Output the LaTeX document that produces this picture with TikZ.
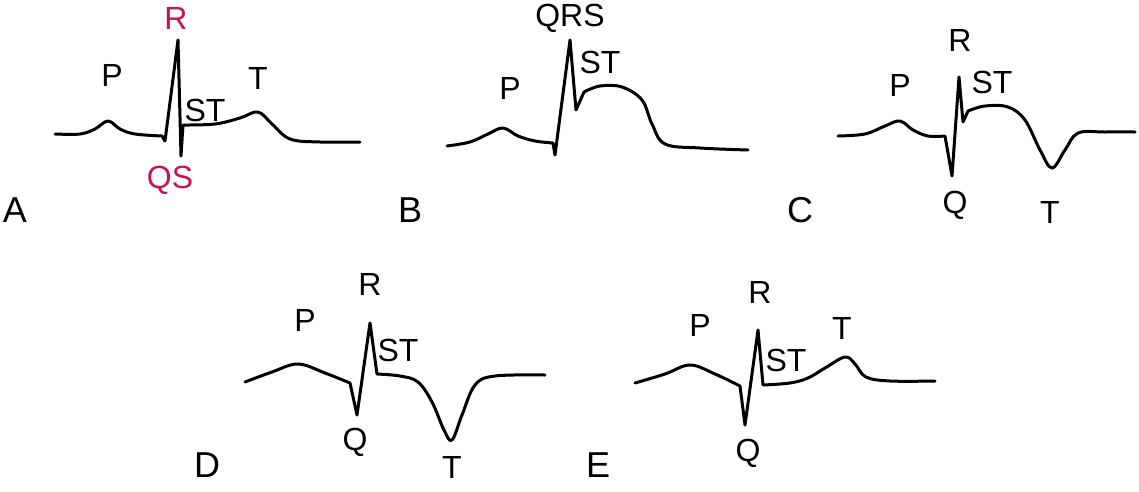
\documentclass[tikz,border=0pt]{standalone}
\usepackage{fontspec}
\setmainfont{Liberation Sans}
\definecolor{ecgred}{RGB}{196,20,84}
\begin{document}
\begin{tikzpicture}[x=1pt,y=-1pt,
  wave/.style={line width=3pt,line join=round,line cap=round},
  lab/.style={font=\fontsize{32}{32}\selectfont,inner sep=0pt},
  big/.style={font=\fontsize{36}{36}\selectfont,inner sep=0pt}]
\useasboundingbox (0,0) rectangle (1139,491);
% A
\draw[wave] plot[smooth,tension=0.6] coordinates{(55,134)(80,134)(95,129)(108,121)(120,129)(135,134)(162,136)}
  -- (165,141) -- (178,40) -- (181,156) -- (183,125)
  plot[smooth,tension=0.6] coordinates{(183,125)(215,124)(240,118)(258,112)(272,124)(290,139)(320,142)(360,142)};
\node[lab] (pA) at (112,75) {P};
\node[lab,text=ecgred] (rA) at (176,18) {R};
\node[lab] (stA) at (205,110) {ST};
\node[lab] (tA) at (258,78) {T};
\node[lab,text=ecgred] (qsA) at (170,180) {QS};
\node[big] (A) at (15,210) {A};
% B
\draw[wave] plot[smooth,tension=0.6] coordinates{(447,146)(470,142)(488,134)(503,128)(518,136)(535,141)(553,143)}
  -- (555,155) -- (570,40) -- (576,110) -- (584,92)
  plot[smooth,tension=0.6] coordinates{(584,92)(600,86)(622,87)(642,100)(652,124)(665,144)(700,148)(748,150)};
\node[lab] (pB) at (510,88) {P};
\node[lab] (qrsB) at (570,18) {QRS};
\node[lab] (stB) at (600,62) {ST};
\node[big] (B) at (410,210) {B};
% C
\draw[wave] plot[smooth,tension=0.6] coordinates{(838,136)(865,134)(885,126)(900,121)(913,130)(928,136)(945,136)}
  -- (952,176) -- (959,77) -- (963,122) -- (968,111)
  plot[smooth,tension=0.6] coordinates{(968,111)(985,106)(1008,107)(1025,120)(1040,150)(1052,168)(1065,150)(1078,133)(1105,132)(1135,132)};
\node[lab] (pC) at (900,85) {P};
\node[lab] (rC) at (960,40) {R};
\node[lab] (stC) at (992,82) {ST};
\node[lab] (qC) at (955,205) {Q};
\node[lab] (tC) at (1050,212) {T};
\node[big] (C) at (800,210) {C};
% D
\draw[wave] plot[smooth,tension=0.6] coordinates{(245,382)(272,372)(298,364)(325,373)(350,383)}
  -- (357,415) -- (370,323) -- (377,374)
  plot[smooth,tension=0.6] coordinates{(377,374)(400,376)(418,382)(432,402)(444,430)(452,440)(462,415)(475,385)(495,376)(545,375)};
\node[lab] (pD) at (305,320) {P};
\node[lab] (rD) at (370,284) {R};
\node[lab] (stD) at (398,350) {ST};
\node[lab] (qD) at (355,442) {Q};
\node[lab] (tD) at (452,467) {T};
\node[big] (D) at (207,465) {D};
% E
\draw[wave] plot[smooth,tension=0.6] coordinates{(635,383)(665,374)(690,365)(715,374)(740,386)}
  -- (745,425) -- (758,330) -- (763,385)
  plot[smooth,tension=0.6] coordinates{(763,385)(790,383)(808,378)(825,368)(845,357)(855,364)(866,377)(890,381)(935,381)};
\node[lab] (pE) at (700,325) {P};
\node[lab] (rE) at (760,292) {R};
\node[lab] (stE) at (786,360) {ST};
\node[lab] (tE) at (842,328) {T};
\node[lab] (qE) at (748,453) {Q};
\node[big] (E) at (598,465) {E};
\end{tikzpicture}
\end{document}
